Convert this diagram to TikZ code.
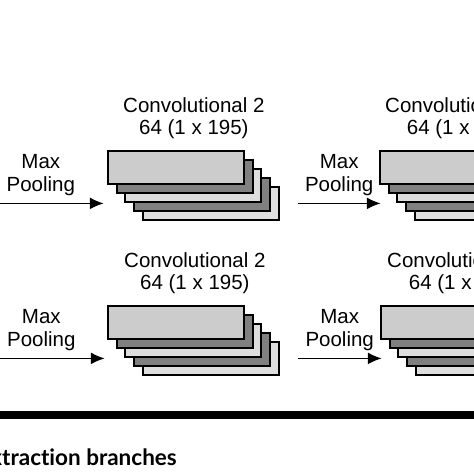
\documentclass[tikz,border=0pt]{standalone}
\usepackage{fontspec}
\setmainfont{Liberation Sans}
\newfontfamily\branchfont{Lato}[Ligatures=NoCommon]
\usetikzlibrary{arrows.meta,positioning}
\tikzset{
    conv layer/.style={draw, line width=1.8pt, minimum width=136pt, minimum height=33pt, inner sep=0pt, anchor=north west},
    layer front/.style={conv layer, fill=black!20},
    layer dark/.style={conv layer, fill=black!50},
    layer light/.style={conv layer, fill=black!13},
    conv label/.style={align=center, inner sep=0pt, anchor=south west, font=\fontsize{20.5}{22}\selectfont},
    pool label/.style={align=center, inner sep=2pt, font=\fontsize{20.5}{23}\selectfont},
    pool arrow/.style={-{Latex[length=14pt,width=12pt]}, line width=1.6pt}
}

\begin{document}
\begin{tikzpicture}[x=1pt, y=-1pt]
	\useasboundingbox (0,0) rectangle (474,474);
	\clip (0,0) rectangle (474,474);
	\foreach \stack/\sx/\sy in {tl/107/150, tr/379/150, bl/107/305, br/380/305}{
		\foreach \k/\lstyle in {4/layer light, 3/layer dark, 2/layer light, 1/layer dark, 0/layer front}{
			\node[\lstyle] (\stack\k) at (\sx+\k*8.7, \sy+\k*9) {};
		}
	}
	\node[conv label] (tl text) at ([xshift=16pt, yshift=11pt]tl0.north west) {Convolutional 2\\64 (1 x 195)};
	\node[conv label] (tr text) at ([xshift=6pt, yshift=11pt]tr0.north west) {Convolutional 3\\64 (1 x 97)};
	\node[conv label] (bl text) at ([xshift=17pt, yshift=11pt]bl0.north west) {Convolutional 2\\64 (1 x 195)};
	\node[conv label] (br text) at ([xshift=7pt, yshift=11pt]br0.north west) {Convolutional 3\\64 (1 x 97)};
	\coordinate (tl in) at ([xshift=-164pt]tl4.west);
	\coordinate (bl in) at ([xshift=-164pt]bl4.west);
	\draw[pool arrow] (tl in) -- ([xshift=-38pt]tl4.west) node[pool label, above=5pt, midway] {Max\\Pooling};
	\draw[pool arrow] (bl in) -- ([xshift=-37pt]bl4.west) node[pool label, above=5pt, midway] {Max\\Pooling};
	\draw[pool arrow] ([xshift=18pt]tl4.east) -- ([xshift=-33pt]tr4.west) node[pool label, above=5pt, midway] {Max\\Pooling};
	\draw[pool arrow] ([xshift=18pt]bl4.east) -- ([xshift=-33pt]br4.west) node[pool label, above=5pt, midway] {Max\\Pooling};
	\draw[line width=8pt] (-5,415) -- (480,415);
	\node[anchor=base east, inner sep=0pt, font=\branchfont\bfseries\fontsize{22.5}{26}\selectfont] (branch text) at (177,465) {extraction branches};
\end{tikzpicture}
\end{document}
